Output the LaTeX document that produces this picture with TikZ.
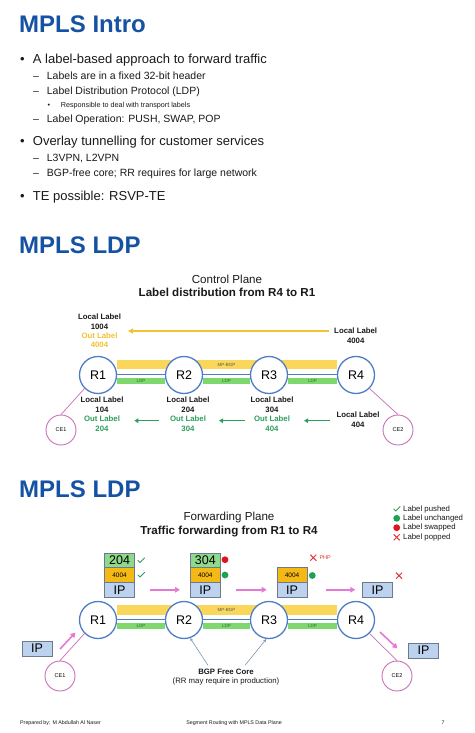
\documentclass[tikz,border=0pt]{standalone}
\usepackage{fontspec}
\setmainfont{Liberation Sans}
\usetikzlibrary{arrows.meta,calc}
\pgfdeclarelayer{background}
\pgfsetlayers{background,main}
\definecolor{titleblue}{HTML}{1652A3}
\definecolor{rblue}{HTML}{4D7DC8}
\definecolor{bandyellow}{HTML}{FAD75A}
\definecolor{ldpgreen}{HTML}{7ED86E}
\definecolor{outyellow}{HTML}{F2C230}
\definecolor{outgreen}{HTML}{2E9E5E}
\definecolor{cepink}{HTML}{C870B8}
\definecolor{arrowpink}{HTML}{E57AD6}
\definecolor{stgreen}{HTML}{8FD98A}
\definecolor{styellow}{HTML}{F5B915}
\definecolor{stblue}{HTML}{BCD2EE}
\definecolor{stborder}{HTML}{6D7A8C}
\definecolor{dotred}{HTML}{E0141E}
\definecolor{dotgreen}{HTML}{1DA154}
\definecolor{xred}{HTML}{E03535}
\definecolor{graybl}{HTML}{8097B5}
\definecolor{txt}{HTML}{1A1A1A}
\definecolor{ldptext}{HTML}{2D6B2D}
\tikzset{
  chkmark/.pic={\draw[outgreen, line width=0.8pt, line cap=round, line join=round] (-3,0) -- (-1,2) -- (3.5,-2.5);},
  redx/.pic={\draw[xred, line width=1pt] (-3,-3) -- (3,3) (-3,3) -- (3,-3);}
}
\begin{document}
\begin{tikzpicture}[x=1pt,y=-1pt,
  ttl/.style={font=\fontsize{24}{28}\selectfont\bfseries, text=titleblue, anchor=base west, inner sep=0pt},
  lone/.style={font=\fontsize{13}{15}\selectfont, anchor=base west, inner sep=0pt, text=txt},
  ltwo/.style={font=\fontsize{10.5}{12}\selectfont, anchor=base west, inner sep=0pt, text=txt},
  lthree/.style={font=\fontsize{7.2}{8}\selectfont, anchor=base west, inner sep=0pt, text=txt},
  router/.style={circle, draw=rblue, line width=1.3pt, fill=white, minimum size=37pt, inner sep=0pt, font=\fontsize{12.5}{14}\selectfont},
  cenode/.style={circle, draw=cepink, line width=0.9pt, fill=white, minimum size=30pt, inner sep=0pt, font=\fontsize{5.5}{6}\selectfont},
  lbl/.style={font=\fontsize{7.8}{9.4}\selectfont\bfseries, align=center, inner sep=0pt, anchor=north, text=txt},
  planehead/.style={font=\fontsize{11.6}{13}\selectfont, anchor=base, inner sep=0pt, text=txt},
  link/.style={draw=rblue, line width=0.8pt, double=white, double distance=0.9pt},
  celink/.style={draw=cepink, line width=0.7pt},
  tinylbl/.style={font=\fontsize{4.5}{5}\selectfont, inner sep=0pt},
  stk/.style={draw=stborder, line width=0.6pt, minimum width=30pt, minimum height=14.7pt, inner sep=0pt, anchor=north west},
  parrow/.style={draw=arrowpink, line width=1.6pt, -{Triangle[length=5pt,width=5.5pt]}},
  yarrow/.style={draw=outyellow, line width=1.3pt, -{Triangle[length=5pt,width=5pt]}},
  garrow/.style={draw=outgreen, line width=1.2pt, -{Triangle[length=4pt,width=4.5pt]}},
  bgparrow/.style={draw=graybl, line width=0.6pt, -{Stealth[length=3.5pt,width=3pt]}},
  legtxt/.style={font=\fontsize{7.8}{9}\selectfont, anchor=west, inner sep=0pt, text=txt},
  dot/.style={circle, inner sep=0pt, minimum size=6.8pt},
  foot/.style={font=\fontsize{5.3}{6}\selectfont, anchor=base, inner sep=0pt, text=txt}
]
\useasboundingbox (0,0) rectangle (474,733);
\begin{pgfonlayer}{background}
  \fill[white] (0,0) rectangle (474,733);
\end{pgfonlayer}

% ---------------- MPLS Intro ----------------
\node[ttl] (t1) at (19,32.3) {MPLS Intro};
\node[lone] (b1d) at (20,64) {•};
\node[lone] (b1) at (32.7,64) {A label-based approach to forward traffic};
\node[ltwo] (b11d) at (33,80) {–};
\node[ltwo] (b11) at (46.7,80) {Labels are in a fixed 32-bit header};
\node[ltwo] (b12d) at (33,95) {–};
\node[ltwo] (b12) at (46.7,95) {Label Distribution Protocol (LDP)};
\node[lthree] (b121d) at (47.5,107.5) {•};
\node[lthree] (b121) at (60.7,107.5) {Responsible to deal with transport labels};
\node[ltwo] (b13d) at (33,122) {–};
\node[ltwo] (b13) at (46.7,122) {Label Operation: PUSH, SWAP, POP};
\node[lone] (b2d) at (20,145.5) {•};
\node[lone] (b2) at (32.7,145.5) {Overlay tunnelling for customer services};
\node[ltwo] (b21d) at (33,161.7) {–};
\node[ltwo] (b21) at (46.7,161.7) {L3VPN, L2VPN};
\node[ltwo] (b22d) at (33,176.7) {–};
\node[ltwo] (b22) at (46.7,176.7) {BGP-free core; RR requires for large network};
\node[lone] (b3d) at (20,200) {•};
\node[lone] (b3) at (32.7,200) {TE possible: RSVP-TE};

% ---------------- MPLS LDP : control plane ----------------
\node[ttl] (t2) at (19,253) {MPLS LDP};
\node[planehead] (cp1) at (227,283.3) {Control Plane};
\node[planehead, font=\fontsize{11.6}{13}\selectfont\bfseries] (cp2) at (227,296.7) {Label distribution from R4 to R1};

\node[router] (cR1) at (98,375) {R1};
\node[router] (cR2) at (184,375) {R2};
\node[router] (cR3) at (269,375) {R3};
\node[router] (cR4) at (356,375) {R4};
\node[cenode] (cCE1) at (61,430) {CE1};
\node[cenode] (cCE2) at (398,430) {CE2};

\begin{pgfonlayer}{background}
  \fill[bandyellow] ([yshift=6.5pt]cR1.east) rectangle ([yshift=15pt]cR4.west);
  \fill[ldpgreen] ([yshift=-2.5pt]cR1.east) rectangle ([yshift=-8.5pt]cR2.west);
  \fill[ldpgreen] ([yshift=-2.5pt]cR2.east) rectangle ([yshift=-8.5pt]cR3.west);
  \fill[ldpgreen] ([yshift=-2.5pt]cR3.east) rectangle ([yshift=-8.5pt]cR4.west);
\end{pgfonlayer}
\node[tinylbl, text=black!65] (cbgp) at ([yshift=10.5pt]$(cR2)!0.5!(cR3)$) {MP-BGP};
\node[tinylbl, text=ldptext] (cldp1) at ([yshift=-5.5pt]$(cR1)!0.5!(cR2)$) {LDP};
\node[tinylbl, text=ldptext] (cldp2) at ([yshift=-5.5pt]$(cR2)!0.5!(cR3)$) {LDP};
\node[tinylbl, text=ldptext] (cldp3) at ([yshift=-5.5pt]$(cR3)!0.5!(cR4)$) {LDP};

\draw[link] (cR1) -- (cR2);
\draw[link] (cR2) -- (cR3);
\draw[link] (cR3) -- (cR4);
\draw[celink] (cCE1.north) -- (cR1.south west);
\draw[celink] (cR4.south east) -- (cCE2.north);

\node[lbl] (l1004) at (99.5,313.8) {Local Label\\1004\\\textcolor{outyellow}{Out Label}\\\textcolor{outyellow}{4004}};
\node[lbl] (l4004) at (355.7,328) {Local Label\\4004};
\coordinate (ya1) at (329,331);
\coordinate (ya2) at (128,331);
\draw[yarrow] (ya1) -- (ya2);

\node[lbl] (l104) at (102,397) {Local Label\\104\\\textcolor{outgreen}{Out Label}\\\textcolor{outgreen}{204}};
\node[lbl] (l204) at (188,397) {Local Label\\204\\\textcolor{outgreen}{Out Label}\\\textcolor{outgreen}{304}};
\node[lbl] (l304) at (272,397) {Local Label\\304\\\textcolor{outgreen}{Out Label}\\\textcolor{outgreen}{404}};
\node[lbl] (l404) at (358,412) {Local Label\\404};
\coordinate (ga1) at (159.3,420.7); \coordinate (ga2) at (134.3,420.7);
\coordinate (ga3) at (245,420.7);   \coordinate (ga4) at (219,420.7);
\coordinate (ga5) at (330,420.7);   \coordinate (ga6) at (304,420.7);
\draw[garrow] (ga1) -- (ga2);
\draw[garrow] (ga3) -- (ga4);
\draw[garrow] (ga5) -- (ga6);

% ---------------- MPLS LDP : forwarding plane ----------------
\node[ttl] (t3) at (19,497.3) {MPLS LDP};
\node[planehead] (fp1) at (229,520.7) {Forwarding Plane};
\node[planehead, font=\fontsize{11.6}{13}\selectfont\bfseries] (fp2) at (229,534.3) {Traffic forwarding from R1 to R4};

% legend
\pic at (396.7,509) {chkmark};
\node[dot, fill=dotgreen] (lgd2) at (396.7,518.3) {};
\node[dot, fill=dotred] (lgd3) at (396.7,527.7) {};
\pic at (396.7,537.3) {redx};
\node[legtxt] (lg1) at (403,509) {Label pushed};
\node[legtxt] (lg2) at (403,518.3) {Label unchanged};
\node[legtxt] (lg3) at (403,527.7) {Label swapped};
\node[legtxt] (lg4) at (403,537.3) {Label popped};

% label stacks
\node[stk, fill=stgreen, font=\fontsize{12.5}{14}\selectfont] (s1a) at (104.3,552.7) {204};
\node[stk, fill=styellow, font=\fontsize{6.5}{7}\selectfont] (s1b) at (104.3,567.4) {4004};
\node[stk, fill=stblue, font=\fontsize{12.5}{14}\selectfont] (s1c) at (104.3,582.1) {IP};
\pic at (141,560.5) {chkmark};
\pic at (141,575) {chkmark};

\node[stk, fill=stgreen, font=\fontsize{12.5}{14}\selectfont] (s2a) at (190,552.7) {304};
\node[stk, fill=styellow, font=\fontsize{6.5}{7}\selectfont] (s2b) at (190,567.4) {4004};
\node[stk, fill=stblue, font=\fontsize{12.5}{14}\selectfont] (s2c) at (190,582.1) {IP};
\node[dot, fill=dotred] (d2a) at (225,559.7) {};
\node[dot, fill=dotgreen] (d2b) at (225,575) {};

\node[stk, fill=styellow, font=\fontsize{6.5}{7}\selectfont] (s3b) at (276.7,567.4) {4004};
\node[stk, fill=stblue, font=\fontsize{12.5}{14}\selectfont] (s3c) at (276.7,582.1) {IP};
\node[dot, fill=dotgreen] (d3b) at (312.3,575.5) {};
\pic at (313.3,557.7) {redx};
\node[font=\fontsize{5.5}{6}\selectfont, text=xred, anchor=west, inner sep=0pt] (php) at (319.3,557.7) {PHP};

\node[stk, fill=stblue, font=\fontsize{12.5}{14}\selectfont] (s4c) at (362.3,582.1) {IP};
\pic at (399,575.7) {redx};

\draw[parrow, shorten <=15pt, shorten >=10pt] (s1c) -- (s2c);
\draw[parrow, shorten <=15pt, shorten >=10pt] (s2c) -- (s3c);
\draw[parrow, shorten <=19pt, shorten >=7pt] (s3c) -- (s4c);

% routers
\node[router] (fR1) at (98,620) {R1};
\node[router] (fR2) at (184,620) {R2};
\node[router] (fR3) at (269,620) {R3};
\node[router] (fR4) at (356,620) {R4};
\node[cenode] (fCE1) at (60,676) {CE1};
\node[cenode] (fCE2) at (397,676) {CE2};

\begin{pgfonlayer}{background}
  \fill[bandyellow] ([yshift=5.5pt]fR1.east) rectangle ([yshift=15pt]fR4.west);
  \fill[ldpgreen] ([yshift=-3pt]fR1.east) rectangle ([yshift=-9pt]fR2.west);
  \fill[ldpgreen] ([yshift=-3pt]fR2.east) rectangle ([yshift=-9pt]fR3.west);
  \fill[ldpgreen] ([yshift=-3pt]fR3.east) rectangle ([yshift=-9pt]fR4.west);
\end{pgfonlayer}
\node[tinylbl, text=black!65] (fbgp) at ([yshift=10pt]$(fR2)!0.5!(fR3)$) {MP-BGP};
\node[tinylbl, text=ldptext] (fldp1) at ([yshift=-6pt]$(fR1)!0.5!(fR2)$) {LDP};
\node[tinylbl, text=ldptext] (fldp2) at ([yshift=-6pt]$(fR2)!0.5!(fR3)$) {LDP};
\node[tinylbl, text=ldptext] (fldp3) at ([yshift=-6pt]$(fR3)!0.5!(fR4)$) {LDP};

\draw[link] (fR1) -- (fR2);
\draw[link] (fR2) -- (fR3);
\draw[link] (fR3) -- (fR4);
\draw[celink] (fCE1.north) -- (fR1.south west);
\draw[celink] (fR4.south east) -- (fCE2.north);

\node[draw=stborder, line width=0.6pt, fill=stblue, minimum width=30pt, minimum height=15pt, inner sep=0pt, font=\fontsize{12.5}{14}\selectfont] (ipL) at (37,648.5) {IP};
\node[draw=stborder, line width=0.6pt, fill=stblue, minimum width=30pt, minimum height=15pt, inner sep=0pt, font=\fontsize{12.5}{14}\selectfont] (ipR) at (423.5,650.5) {IP};
\coordinate (pl1) at (60,649); \coordinate (pl2) at (75.5,632.5);
\coordinate (pr1) at (380,632); \coordinate (pr2) at (397.5,648.5);
\draw[parrow] (pl1) -- (pl2);
\draw[parrow] (pr1) -- (pr2);

\node[font=\fontsize{7.8}{9}\selectfont\bfseries, anchor=base, inner sep=0pt, text=txt] (bgp) at (226,674) {BGP Free Core};
\node[font=\fontsize{7.8}{9}\selectfont, anchor=base, inner sep=0pt, text=txt] (rr) at (226,683.3) {(RR may require in production)};
\draw[bgparrow] ([xshift=-18pt,yshift=3pt]bgp.north) -- (fR2.-71);
\draw[bgparrow] ([xshift=19pt,yshift=3pt]bgp.north) -- (fR3.-98);

% footer
\node[foot, anchor=base west] (f1) at (20,724.7) {Prepared by: M Abdullah Al Naser};
\node[foot] (f2) at (234,724.7) {Segment Routing with MPLS Data Plane};
\node[foot] (f3) at (443,724.7) {7};
\end{tikzpicture}
\end{document}
